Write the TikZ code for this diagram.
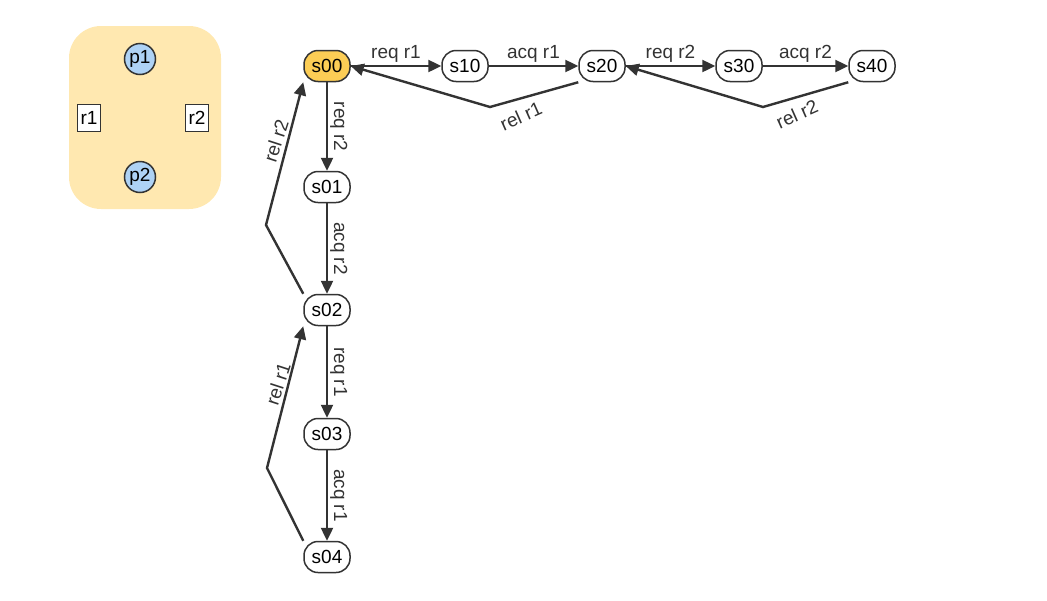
\documentclass[tikz,border=0pt]{standalone}
\usepackage{fontspec}
\setmainfont{Liberation Sans}
\usetikzlibrary{arrows.meta}
\definecolor{lc}{HTML}{333333}
\definecolor{bgc}{HTML}{FFE8B0}
\definecolor{pc}{HTML}{AED2F5}
\definecolor{sc}{HTML}{FCCD55}
\begin{document}
\begin{tikzpicture}[x=1pt,y=-1pt,font=\fontsize{19}{22}\selectfont,
 st/.style={draw=lc,line width=1.5pt,rounded corners=14pt,minimum width=46pt,minimum height=31pt,inner sep=1pt,fill=white},
 pr/.style={draw=lc,line width=1.5pt,circle,fill=pc,minimum size=31pt,inner sep=0pt},
 rs/.style={draw=lc,line width=1.5pt,fill=white,minimum width=23pt,minimum height=27pt,inner sep=1pt},
 ed/.style={draw=lc,line width=2.4pt,-{Triangle[length=13pt,width=12pt]}},
 lb/.style={text=lc,inner sep=2pt}]
\useasboundingbox (0,0) rectangle (1047,600);
\fill[bgc,rounded corners=32pt] (69,26) rectangle (221,209);
\node[pr] (p1) at (140,59) {p1};
\node[pr] (p2) at (140,177) {p2};
\node[rs] (r1) at (89,118) {r1};
\node[rs] (r2) at (197,118) {r2};
\node[st,fill=sc] (s00) at (327,66) {s00};
\node[st] (s10) at (465,66) {s10};
\node[st] (s20) at (602,66) {s20};
\node[st] (s30) at (739,66) {s30};
\node[st] (s40) at (872,66) {s40};
\node[st] (s01) at (327,187) {s01};
\node[st] (s02) at (327,310) {s02};
\node[st] (s03) at (327,434) {s03};
\node[st] (s04) at (327,557) {s04};
\coordinate (b1) at (490,107);
\coordinate (b2) at (763,107);
\coordinate (b3) at (266,225);
\coordinate (b4) at (267,468);
\draw[ed] (s00) -- node[lb,above]{req r1} (s10);
\draw[ed] (s10) -- node[lb,above]{acq r1} (s20);
\draw[ed] (s20) -- node[lb,above]{req r2} (s30);
\draw[ed] (s30) -- node[lb,above]{acq r2} (s40);
\draw[ed] (s00) -- node[lb,rotate=-90,anchor=south]{req r2} (s01);
\draw[ed] (s01) -- node[lb,rotate=-90,anchor=south]{acq r2} (s02);
\draw[ed] (s02) -- node[lb,rotate=-90,anchor=south]{req r1} (s03);
\draw[ed] (s03) -- node[lb,rotate=-90,anchor=south]{acq r1} (s04);
\draw[ed] (s20.south west) -- (b1) -- (s00.east);
\draw[ed] (s40.south west) -- (b2) -- (s20.east);
\draw[ed] (s02.north west) -- (b3) -- (s00.south west);
\draw[ed] (s04.north west) -- (b4) -- (s02.south west);
\node[lb,rotate=24] at (521,116) {rel r1};
\node[lb,rotate=24] at (797,114) {rel r2};
\node[lb,rotate=72] at (276,141) {rel r2};
\node[lb,rotate=72] at (278,384) {rel r1};
\end{tikzpicture}
\end{document}
